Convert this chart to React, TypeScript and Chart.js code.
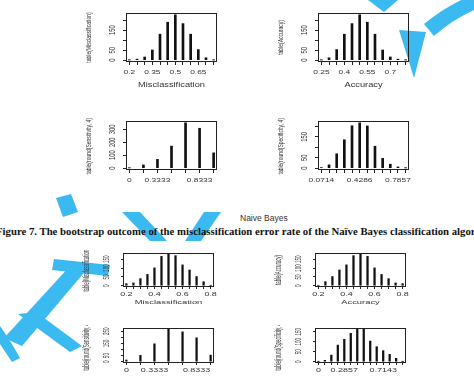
import React, { useEffect, useRef, useState } from 'react';
import { Chart, registerables } from 'chart.js';
Chart.register(...registerables);

// ---------- data ----------
const misTopX = [0.2, 0.25, 0.3, 0.35, 0.4, 0.45, 0.5, 0.55, 0.6, 0.65, 0.7, 0.75];
const misTopY = [1, 5, 16, 51, 130, 190, 227, 183, 130, 53, 12, 1];
const accTopX = [0.25, 0.3, 0.35, 0.4, 0.45, 0.5, 0.55, 0.6, 0.65, 0.7, 0.75, 0.8];
const accTopY = [1, 12, 53, 130, 183, 227, 190, 130, 51, 16, 5, 1];
const senX = [0, 0.1667, 0.3333, 0.5, 0.6667, 0.8333, 1];
const senTopY = [2, 25, 68, 170, 350, 308, 118];
const speTopX = [0.0714, 0.1429, 0.2143, 0.2857, 0.3571, 0.4286, 0.5, 0.5714, 0.6429, 0.7143, 0.7857, 0.8571];
const speTopY = [3, 16, 69, 136, 203, 217, 202, 105, 47, 19, 6, 1];

const misBotX = [0.2, 0.25, 0.3, 0.35, 0.4, 0.45, 0.5, 0.55, 0.6, 0.65, 0.7, 0.75, 0.8];
const misBotY = [12, 16, 40, 64, 101, 166, 178, 170, 118, 89, 52, 23, 2];
const accBotX = [0.2, 0.25, 0.3, 0.35, 0.4, 0.45, 0.5, 0.55, 0.6, 0.65, 0.7, 0.75, 0.8];
const accBotY = [2, 23, 52, 89, 118, 170, 178, 166, 101, 64, 40, 16, 12];
const senBotY = [14, 52, 147, 266, 245, 196, 54];
const speBotX = [0, 0.0714, 0.1429, 0.2143, 0.2857, 0.3571, 0.4286, 0.5, 0.5714, 0.6429, 0.7143, 0.7857, 0.8571, 0.9286];
const speBotY = [1, 7, 33, 83, 112, 142, 162, 162, 103, 75, 55, 37, 17, 1];

// tick labels
const misTopLabels = [0.2, 0.35, 0.5, 0.65];
const accTopLabels = [0.25, 0.4, 0.55, 0.7];
const senLabels = [0, 0.3333, 0.8333];
const speTopLabels = [0.0714, 0.4286, 0.7857];
const botLabels = [0.2, 0.4, 0.6, 0.8];
const speBotLabels = [0, 0.2857, 0.7143];

const yTicks200 = [0, 50, 100, 150, 200];
const yLabels200 = [0, 50, 150];
const yTicks300 = [0, 100, 200, 300];
const yTicks150 = [0, 50, 100, 150];
const yTicks250 = [0, 50, 100, 150, 200, 250];
const yLabels250 = [0, 50, 150, 250];

const caption = 'Figure 7. The bootstrap outcome of the misclassification error rate of the Naïve Bayes classification algorithm';
const captionVisible = 'Figure 7. The bootstrap outcome of the misclassification error rate of the Naïve Bayes classification algor';

// ---------- styles ----------
const TOP = { tickFs: 5.8, titleFs: 6.4, yTitleFs: 5, sx: 1.45, tick: 3, xLabDy: 10, xTitleDy: 23, yLabDx: 13, yTitleDx: 37, barW: 2 };
const BOT = { tickFs: 4.6, titleFs: 4.8, yTitleFs: 4.3, sx: 1.95, tick: 2, xLabDy: 7.5, xTitleDy: 16, yLabDx: 16, yTitleDx: 36, barW: 1.6 };

type P = {
  box: { l: number; t: number; r: number; b: number };
  xs: number[]; ys: number[]; xLabels: number[]; yTicks: number[]; yLabels: number[];
  xTitle?: string; yTitle: string; st: typeof TOP;
};

const panels: P[] = [
  { box: { l: 126, t: 13, r: 217, b: 62 }, xs: misTopX, ys: misTopY, xLabels: misTopLabels, yTicks: yTicks200, yLabels: yLabels200, xTitle: 'Misclassification', yTitle: 'table(Misclassification)', st: TOP },
  { box: { l: 318, t: 13, r: 409, b: 62 }, xs: accTopX, ys: accTopY, xLabels: accTopLabels, yTicks: yTicks200, yLabels: yLabels200, xTitle: 'Accuracy', yTitle: 'table(Accuracy)', st: TOP },
  { box: { l: 126, t: 121, r: 217, b: 170 }, xs: senX, ys: senTopY, xLabels: senLabels, yTicks: yTicks300, yLabels: yTicks300, yTitle: 'table(round(Sensitivity, 4))', st: TOP },
  { box: { l: 318, t: 121, r: 409, b: 170 }, xs: speTopX, ys: speTopY, xLabels: speTopLabels, yTicks: yTicks200, yLabels: yLabels200, yTitle: 'table(round(Specificity, 4))', st: TOP },
  { box: { l: 123, t: 253, r: 214, b: 287 }, xs: misBotX, ys: misBotY, xLabels: botLabels, yTicks: yTicks150, yLabels: yTicks150, xTitle: 'Misclassification', yTitle: 'table(Misclassification)', st: BOT },
  { box: { l: 315, t: 253, r: 406, b: 287 }, xs: accBotX, ys: accBotY, xLabels: botLabels, yTicks: yTicks150, yLabels: yTicks150, xTitle: 'Accuracy', yTitle: 'table(Accuracy)', st: BOT },
  { box: { l: 123, t: 328, r: 214, b: 363 }, xs: senX, ys: senBotY, xLabels: senLabels, yTicks: yTicks250, yLabels: yLabels250, yTitle: 'table(round(Sensitivity, 4))', st: BOT },
  { box: { l: 315, t: 328, r: 406, b: 363 }, xs: speBotX, ys: speBotY, xLabels: speBotLabels, yTicks: yTicks150, yLabels: yTicks150, yTitle: 'table(round(Specificity, 4))', st: BOT },
];

const YW = 46, PT = 3, PR = 3, XH = 30;
const TXT = '#333';
const SANS = '"Liberation Sans", Arial, Helvetica, sans-serif';

function drawText(ctx: CanvasRenderingContext2D, text: string, x: number, y: number, fs: number, sx: number, rot: number) {
  ctx.save();
  ctx.translate(x, y);
  ctx.scale(sx, 1);
  ctx.rotate(rot);
  ctx.font = `${fs}px ${SANS}`;
  ctx.fillStyle = TXT;
  ctx.textAlign = 'center';
  ctx.textBaseline = 'middle';
  ctx.fillText(text, 0, 0);
  ctx.restore();
}

function Panel({ p }: { p: P }) {
  const ref = useRef<HTMLCanvasElement>(null);
  const bw = p.box.r - p.box.l, bh = p.box.b - p.box.t;
  const W = YW + bw + PR, H = PT + bh + XH;
  useEffect(() => {
    const xr = p.xs[p.xs.length - 1] - p.xs[0];
    const ymax = Math.max(...p.ys);
    const st = p.st;
    const deco = {
      id: 'rdeco',
      afterDraw(chart: any) {
        const ctx = chart.ctx as CanvasRenderingContext2D;
        const a = chart.chartArea;
        const xs = chart.scales.x, ys = chart.scales.y;
        ctx.save();
        ctx.strokeStyle = '#222';
        ctx.lineWidth = 1;
        ctx.strokeRect(a.left + 0.5, a.top + 0.5, a.right - a.left - 1, a.bottom - a.top - 1);
        ctx.restore();
        p.xLabels.forEach(v => drawText(ctx, String(v), xs.getPixelForValue(v), a.bottom + st.xLabDy, st.tickFs, st.sx, 0));
        if (p.xTitle) drawText(ctx, p.xTitle, (a.left + a.right) / 2, a.bottom + st.xTitleDy, st.titleFs, st.sx, 0);
        p.yLabels.forEach(v => drawText(ctx, String(v), a.left - st.yLabDx, ys.getPixelForValue(v), st.tickFs, st.sx, -Math.PI / 2));
        drawText(ctx, p.yTitle, a.left - st.yTitleDx, (a.top + a.bottom) / 2, st.yTitleFs, st.sx, -Math.PI / 2);
      },
    };
    const gridOpts = { offset: false, drawOnChartArea: false, drawTicks: true, tickLength: st.tick, color: '#222', lineWidth: 1 };
    const chart = new Chart(ref.current!, {
      type: 'bar',
      data: {
        datasets: [{
          data: p.xs.map((x, i) => ({ x, y: p.ys[i] })),
          backgroundColor: '#111',
          borderWidth: 0,
          barThickness: st.barW,
        }],
      },
      options: {
        animation: false,
        responsive: false,
        maintainAspectRatio: false,
        events: [],
        layout: { padding: { top: PT, right: PR, left: 0, bottom: 0 } },
        plugins: { legend: { display: false }, tooltip: { enabled: false }, title: { display: false } },
        scales: {
          x: {
            type: 'linear',
            offset: false,
            min: p.xs[0] - 0.04 * xr,
            max: p.xs[p.xs.length - 1] + 0.04 * xr,
            grid: gridOpts,
            border: { display: false },
            ticks: { display: false },
            afterBuildTicks: (s: any) => { s.ticks = p.xs.map(v => ({ value: v })); },
            afterFit: (s: any) => { s.height = XH; },
          },
          y: {
            type: 'linear',
            min: -0.04 * ymax,
            max: 1.04 * ymax,
            grid: gridOpts,
            border: { display: false },
            ticks: { display: false },
            afterBuildTicks: (s: any) => { s.ticks = p.yTicks.map(v => ({ value: v })); },
            afterFit: (s: any) => { s.width = YW; },
          },
        },
      } as any,
      plugins: [deco],
    });
    return () => chart.destroy();
  }, []);
  return (
    <canvas
      ref={ref}
      width={W}
      height={H}
      style={{ position: 'absolute', left: p.box.l - YW, top: p.box.t - PT, width: W, height: H }}
    />
  );
}

function Watermark() {
  const c = '#3BB9F1';
  return (
    <svg width={474} height={381} style={{ position: 'absolute', left: 0, top: 0 }}>
      <g fill={c}>
        {/* top right */}
        <polygon points="368,0 398,0 384,12" />
        <polygon points="399,30 426,32 414,78" />
        <path d="M 474 -4 L 474 10 Q 452 20 434 36 L 424 24 Q 446 6 470 -4 Z" />
        {/* middle */}
        <polygon points="56,198 71,194 78,212 63,217" />
        <polygon points="122,212 140,212 167,241 150,241" />
        <polygon points="185,241 201,241 221,212 204,212" />
        {/* bottom left */}
        <polygon points="54,259 110,265 108,276 52,270" />
        <polygon points="70,266 88,268 22,346 4,338" />
        <polygon points="18,314 36,312 82,346 70,352" />
        <path d="M 0 326 Q 10 340 20 358 L 12 362 Q 4 350 0 344 Z" />
      </g>
    </svg>
  );
}

export default function App() {
  const [capScale, setCapScale] = useState(1);
  useEffect(() => {
    const cv = document.createElement('canvas');
    const ctx = cv.getContext('2d')!;
    ctx.font = 'bold 10.5px "Liberation Serif", "Times New Roman", serif';
    const w = ctx.measureText(captionVisible).width;
    setCapScale(480 / w);
  }, []);
  return (
    <div style={{ position: 'fixed', left: 0, top: 0, width: 474, height: 381, background: '#fff', overflow: 'hidden' }}>
      <Watermark />
      {panels.map((p, i) => <Panel key={i} p={p} />)}
      <div style={{ position: 'absolute', left: 240, top: 212, fontFamily: SANS, fontSize: 8.5, color: '#333', lineHeight: '12px', whiteSpace: 'nowrap' }}>
        Naive Bayes
      </div>
      <div style={{ position: 'absolute', left: -4, top: 226, fontFamily: '"Liberation Serif", "Times New Roman", serif', fontWeight: 'bold', fontSize: 10.5, lineHeight: '12px', color: '#111', whiteSpace: 'nowrap', transform: `scaleX(${capScale})`, transformOrigin: 'left center' }}>
        {caption}
      </div>
    </div>
  );
}
